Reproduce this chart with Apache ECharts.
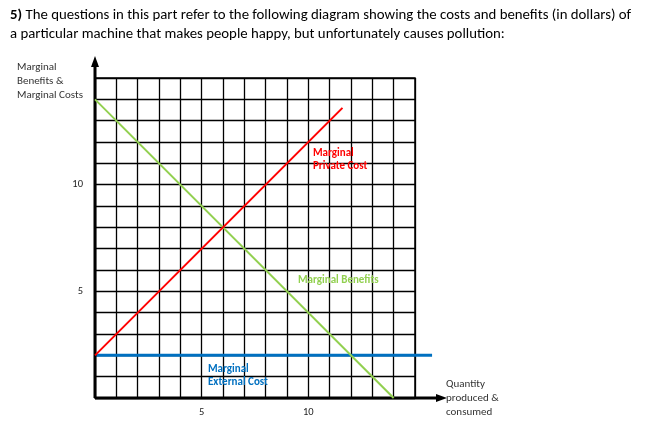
<!DOCTYPE html>
<html><head><meta charset="utf-8">
<script src="https://cdn.jsdelivr.net/npm/echarts@6/dist/echarts.min.js"></script>
<style>body{margin:0;background:#fff}#c{width:647px;height:425px}</style></head>
<body><div id="c"></div>
<script>
const xTickLabels = [5, 10];
const yTickLabels = [5, 10];
const mpc = [[0, 2], [11.6, 13.6]];
const mb = [[0, 14], [14, 0]];
const mec = [[0, 2], [15.8, 2]];
const chart = echarts.init(document.getElementById('c'));
const F = 'Carlito, "Liberation Sans", "Open Sans", sans-serif';
chart.setOption({
  animation: false,
  grid: {left: 95, right: 232, top: 78, bottom: 27, show: true, borderColor: '#000', borderWidth: 1.5},
  xAxis: {type: 'value', min: 0, max: 15, interval: 1,
    axisLine: {show: false}, axisTick: {show: false},
    splitLine: {show: true, lineStyle: {color: '#000', width: 1.3}},
    axisLabel: {margin: 9, fontSize: 10.5, color: '#222', fontFamily: F,
      formatter: v => xTickLabels.includes(v) ? String(v) : ''}},
  yAxis: {type: 'value', min: 0, max: 15, interval: 1,
    axisLine: {show: false}, axisTick: {show: false},
    splitLine: {show: true, lineStyle: {color: '#000', width: 1.3}},
    axisLabel: {margin: 12, fontSize: 10.5, color: '#222', fontFamily: F,
      formatter: v => yTickLabels.includes(v) ? String(v) : ''}},
  series: [
    {type: 'line', data: mb, symbol: 'none', lineStyle: {color: '#92d050', width: 2}},
    {type: 'line', data: mpc, symbol: 'none', lineStyle: {color: '#ff0000', width: 2}}
  ]
});
const o = chart.convertToPixel({gridIndex: 0}, [0, 0]);
const m0 = chart.convertToPixel({gridIndex: 0}, mec[0]);
const m1 = chart.convertToPixel({gridIndex: 0}, mec[1]);
const L = {fontSize: 11, fontWeight: 'bold', fontFamily: F, lineHeight: 13};
chart.setOption({graphic: [
  {type: 'line', shape: {x1: m0[0], y1: m0[1], x2: m1[0], y2: m1[1]}, style: {stroke: '#0070c0', lineWidth: 3}},
  {type: 'line', shape: {x1: o[0], y1: o[1], x2: 438, y2: o[1]}, style: {stroke: '#000', lineWidth: 3}},
  {type: 'polygon', shape: {points: [[447, o[1]], [436, o[1]-4], [436, o[1]+4]]}, style: {fill: '#000'}},
  {type: 'line', shape: {x1: o[0], y1: o[1], x2: o[0], y2: 66}, style: {stroke: '#000', lineWidth: 3}},
  {type: 'polygon', shape: {points: [[o[0], 56], [o[0]-4, 67], [o[0]+4, 67]]}, style: {fill: '#000'}},
  {type: 'text', left: 10, top: 6, style: {rich: {b: {fontWeight: 'bold', fontSize: 14.8, fontFamily: F}}, text: '{b|5)} The questions in this part refer to the following diagram showing the costs and benefits (in dollars) of\na particular machine that makes people happy, but unfortunately causes pollution:', fontSize: 14.8, fontFamily: F, fill: '#000', lineHeight: 19}},
  {type: 'text', left: 17, top: 60, style: {text: 'Marginal\nBenefits &\nMarginal Costs', fontSize: 11, fontFamily: F, fill: '#333', lineHeight: 14}},
  {type: 'text', left: 446, top: 377, style: {text: 'Quantity\nproduced &\nconsumed', fontSize: 11, fontFamily: F, fill: '#333', lineHeight: 14}},
  {type: 'text', left: 313, top: 147, style: Object.assign({text: 'Marginal\nPrivate Cost', fill: '#ff0000'}, L)},
  {type: 'text', left: 298, top: 274, style: Object.assign({text: 'Marginal Benefits', fill: '#92d050'}, L)},
  {type: 'text', left: 208, top: 363, style: Object.assign({text: 'Marginal\nExternal Cost', fill: '#0070c0'}, L)}
]});
</script></body></html>
